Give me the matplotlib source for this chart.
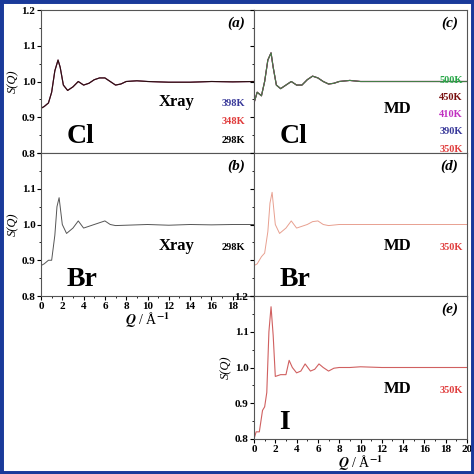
import numpy as np
import matplotlib
matplotlib.use("Agg")
import matplotlib.pyplot as plt
from matplotlib.patches import Rectangle

plt.rcParams['font.family'] = ['Liberation Serif', 'DejaVu Serif']
plt.rcParams['font.weight'] = 'bold'
plt.rcParams['mathtext.fontset'] = 'stix'

# Q grid (1/A) and read-off S(Q) values
q_cl = [0, 0.3, 0.7, 1.0, 1.3, 1.6, 1.8, 2.1, 2.5, 3.0, 3.5, 4.0, 4.5, 5.0, 5.5, 6.0, 6.5, 7.0, 7.5, 8.0, 9, 10, 12, 14, 16, 18, 20]
s_xray_cl = [0.925, 0.93, 0.94, 0.97, 1.03, 1.06, 1.04, 0.99, 0.975, 0.985, 1.0, 0.99, 0.995, 1.005, 1.01, 1.01, 1.0, 0.99, 0.993, 1.0, 1.002, 1.0, 0.998, 0.998, 1.0, 0.999, 1.0]
s_md_cl = [0.94, 0.97, 0.96, 1.0, 1.06, 1.08, 1.04, 0.99, 0.98, 0.99, 1.0, 0.99, 0.99, 1.005, 1.015, 1.01, 1.0, 0.993, 0.995, 1.0, 1.003, 1.0, 1.0, 1.0, 1.0, 1.0, 1.0]

q_br = [0, 0.3, 0.7, 1.0, 1.3, 1.5, 1.7, 2.0, 2.4, 3.0, 3.5, 4.0, 4.5, 5.0, 5.5, 6.0, 6.5, 7.0, 8, 10, 12, 14, 16, 18, 20]
s_xray_br = [0.885, 0.89, 0.90, 0.90, 0.97, 1.05, 1.075, 1.0, 0.975, 0.99, 1.01, 0.99, 0.995, 1.0, 1.005, 1.01, 1.0, 0.997, 0.998, 1.0, 0.998, 1.0, 0.999, 1.0, 1.0]
s_md_br = [0.885, 0.89, 0.91, 0.92, 0.98, 1.06, 1.09, 1.0, 0.975, 0.99, 1.01, 0.99, 0.995, 1.0, 1.008, 1.01, 1.0, 0.997, 1.0, 1.0, 1.0, 1.0, 1.0, 1.0, 1.0]

q_i = [0, 0.2, 0.5, 0.8, 1.0, 1.2, 1.4, 1.6, 1.8, 2.0, 2.5, 3.0, 3.3, 3.6, 4.0, 4.4, 4.8, 5.3, 5.7, 6.1, 6.5, 7.0, 7.5, 8, 9, 10, 12, 14, 16, 18, 20]
s_md_i = [0.80, 0.82, 0.82, 0.88, 0.89, 0.93, 1.10, 1.17, 1.09, 0.975, 0.98, 0.98, 1.02, 1.0, 0.985, 0.99, 1.01, 0.99, 0.995, 1.01, 1.0, 0.99, 0.998, 1.0, 1.0, 1.002, 1.0, 1.0, 1.0, 1.0, 1.0]

xray_temps = ['398K', '348K', '298K']
xray_colors = ['#3a3a9a', '#e03a3a', '#000000']
md_temps = ['500K', '450K', '410K', '390K', '350K']
md_colors = ['#2aa84a', '#7a1010', '#c030c0', '#3a3a9a', '#e04040']

fig = plt.figure(figsize=(4.74, 4.74), dpi=100)
W, H = 213 / 474, 143 / 474
L = 41 / 474
ax_a = fig.add_axes([L, 1 - 153 / 474, W, H])
ax_c = fig.add_axes([L + W, 1 - 153 / 474, W, H])
ax_b = fig.add_axes([L, 1 - 296 / 474, W, H])
ax_d = fig.add_axes([L + W, 1 - 296 / 474, W, H])
ax_e = fig.add_axes([L + W, 1 - 439 / 474, W, H])

for c in xray_colors:
    ax_a.plot(q_cl, s_xray_cl, color=c, lw=0.8, alpha=0.8)
for c in md_colors[::-1]:
    ax_c.plot(q_cl, s_md_cl, color=c, lw=0.8, alpha=0.7)
ax_b.plot(q_br, s_xray_br, color='#555555', lw=0.7)
ax_d.plot(q_br, s_md_br, color='#e8a090', lw=0.7)
ax_e.plot(q_i, s_md_i, color='#d06060', lw=0.8)

for ax in [ax_a, ax_b, ax_c, ax_d, ax_e]:
    ax.set_xlim(0, 20)
    ax.set_ylim(0.8, 1.2)
    ax.set_xticks(np.arange(0, 21, 2))
    ax.set_xticks(np.arange(0, 21, 1), minor=True)
    ax.set_yticks([0.8, 0.9, 1.0, 1.1, 1.2])
    ax.set_yticks(np.arange(0.8, 1.21, 0.05), minor=True)
    ax.tick_params(labelsize=8, length=3, pad=1)
    ax.tick_params(which='minor', length=1.5)
    for sp in ax.spines.values():
        sp.set_color('#555555')

for ax in [ax_a, ax_c, ax_d]:
    ax.tick_params(labelbottom=False)
for ax in [ax_c, ax_d]:
    ax.tick_params(labelleft=False)
ax_b.set_xticklabels([str(v) for v in range(0, 19, 2)] + [''])
ax_b.set_yticklabels(['0.8', '0.9', '1.0', '1.1', ''])

for ax in [ax_a, ax_b, ax_e]:
    ax.set_ylabel('S(Q)', fontsize=9, style='italic', labelpad=2)
for ax in [ax_b, ax_e]:
    ax.set_xlabel(r'$\mathbfit{Q}$ / Å$^{\mathbf{-1}}$', fontsize=10, labelpad=0)

for ax, lab in [(ax_a, '(a)'), (ax_b, '(b)'), (ax_c, '(c)'), (ax_d, '(d)'), (ax_e, '(e)')]:
    ax.text(0.96, 0.88, lab, transform=ax.transAxes, ha='right', fontsize=11, style='italic')

ax_a.text(0.12, 0.07, 'Cl', transform=ax_a.transAxes, fontsize=20)
ax_c.text(0.12, 0.07, 'Cl', transform=ax_c.transAxes, fontsize=20)
ax_b.text(0.12, 0.07, 'Br', transform=ax_b.transAxes, fontsize=20)
ax_d.text(0.12, 0.07, 'Br', transform=ax_d.transAxes, fontsize=20)
ax_e.text(0.12, 0.07, 'I', transform=ax_e.transAxes, fontsize=20)

ax_a.text(0.72, 0.33, 'Xray', transform=ax_a.transAxes, ha='right', fontsize=12)
for i, (t, c) in enumerate(zip(xray_temps, xray_colors)):
    ax_a.text(0.96, 0.33 - i * 0.13, t, transform=ax_a.transAxes, ha='right', fontsize=7.5, color=c)
ax_c.text(0.74, 0.28, 'MD', transform=ax_c.transAxes, ha='right', fontsize=12)
for i, (t, c) in enumerate(zip(md_temps, md_colors)):
    ax_c.text(0.98, 0.49 - i * 0.12, t, transform=ax_c.transAxes, ha='right', fontsize=7.5, color=c)
ax_b.text(0.72, 0.32, 'Xray', transform=ax_b.transAxes, ha='right', fontsize=12)
ax_b.text(0.96, 0.32, '298K', transform=ax_b.transAxes, ha='right', fontsize=7.5, color='black')
ax_d.text(0.74, 0.32, 'MD', transform=ax_d.transAxes, ha='right', fontsize=12)
ax_d.text(0.98, 0.32, '350K', transform=ax_d.transAxes, ha='right', fontsize=7.5, color='#e04040')
ax_e.text(0.74, 0.32, 'MD', transform=ax_e.transAxes, ha='right', fontsize=12)
ax_e.text(0.98, 0.32, '350K', transform=ax_e.transAxes, ha='right', fontsize=7.5, color='#e04040')

fig.patches.append(Rectangle((0, 0), 1, 1, transform=fig.transFigure, fill=False,
                             edgecolor='#1a3a9a', lw=5))
fig.savefig('out.png', dpi=100)
